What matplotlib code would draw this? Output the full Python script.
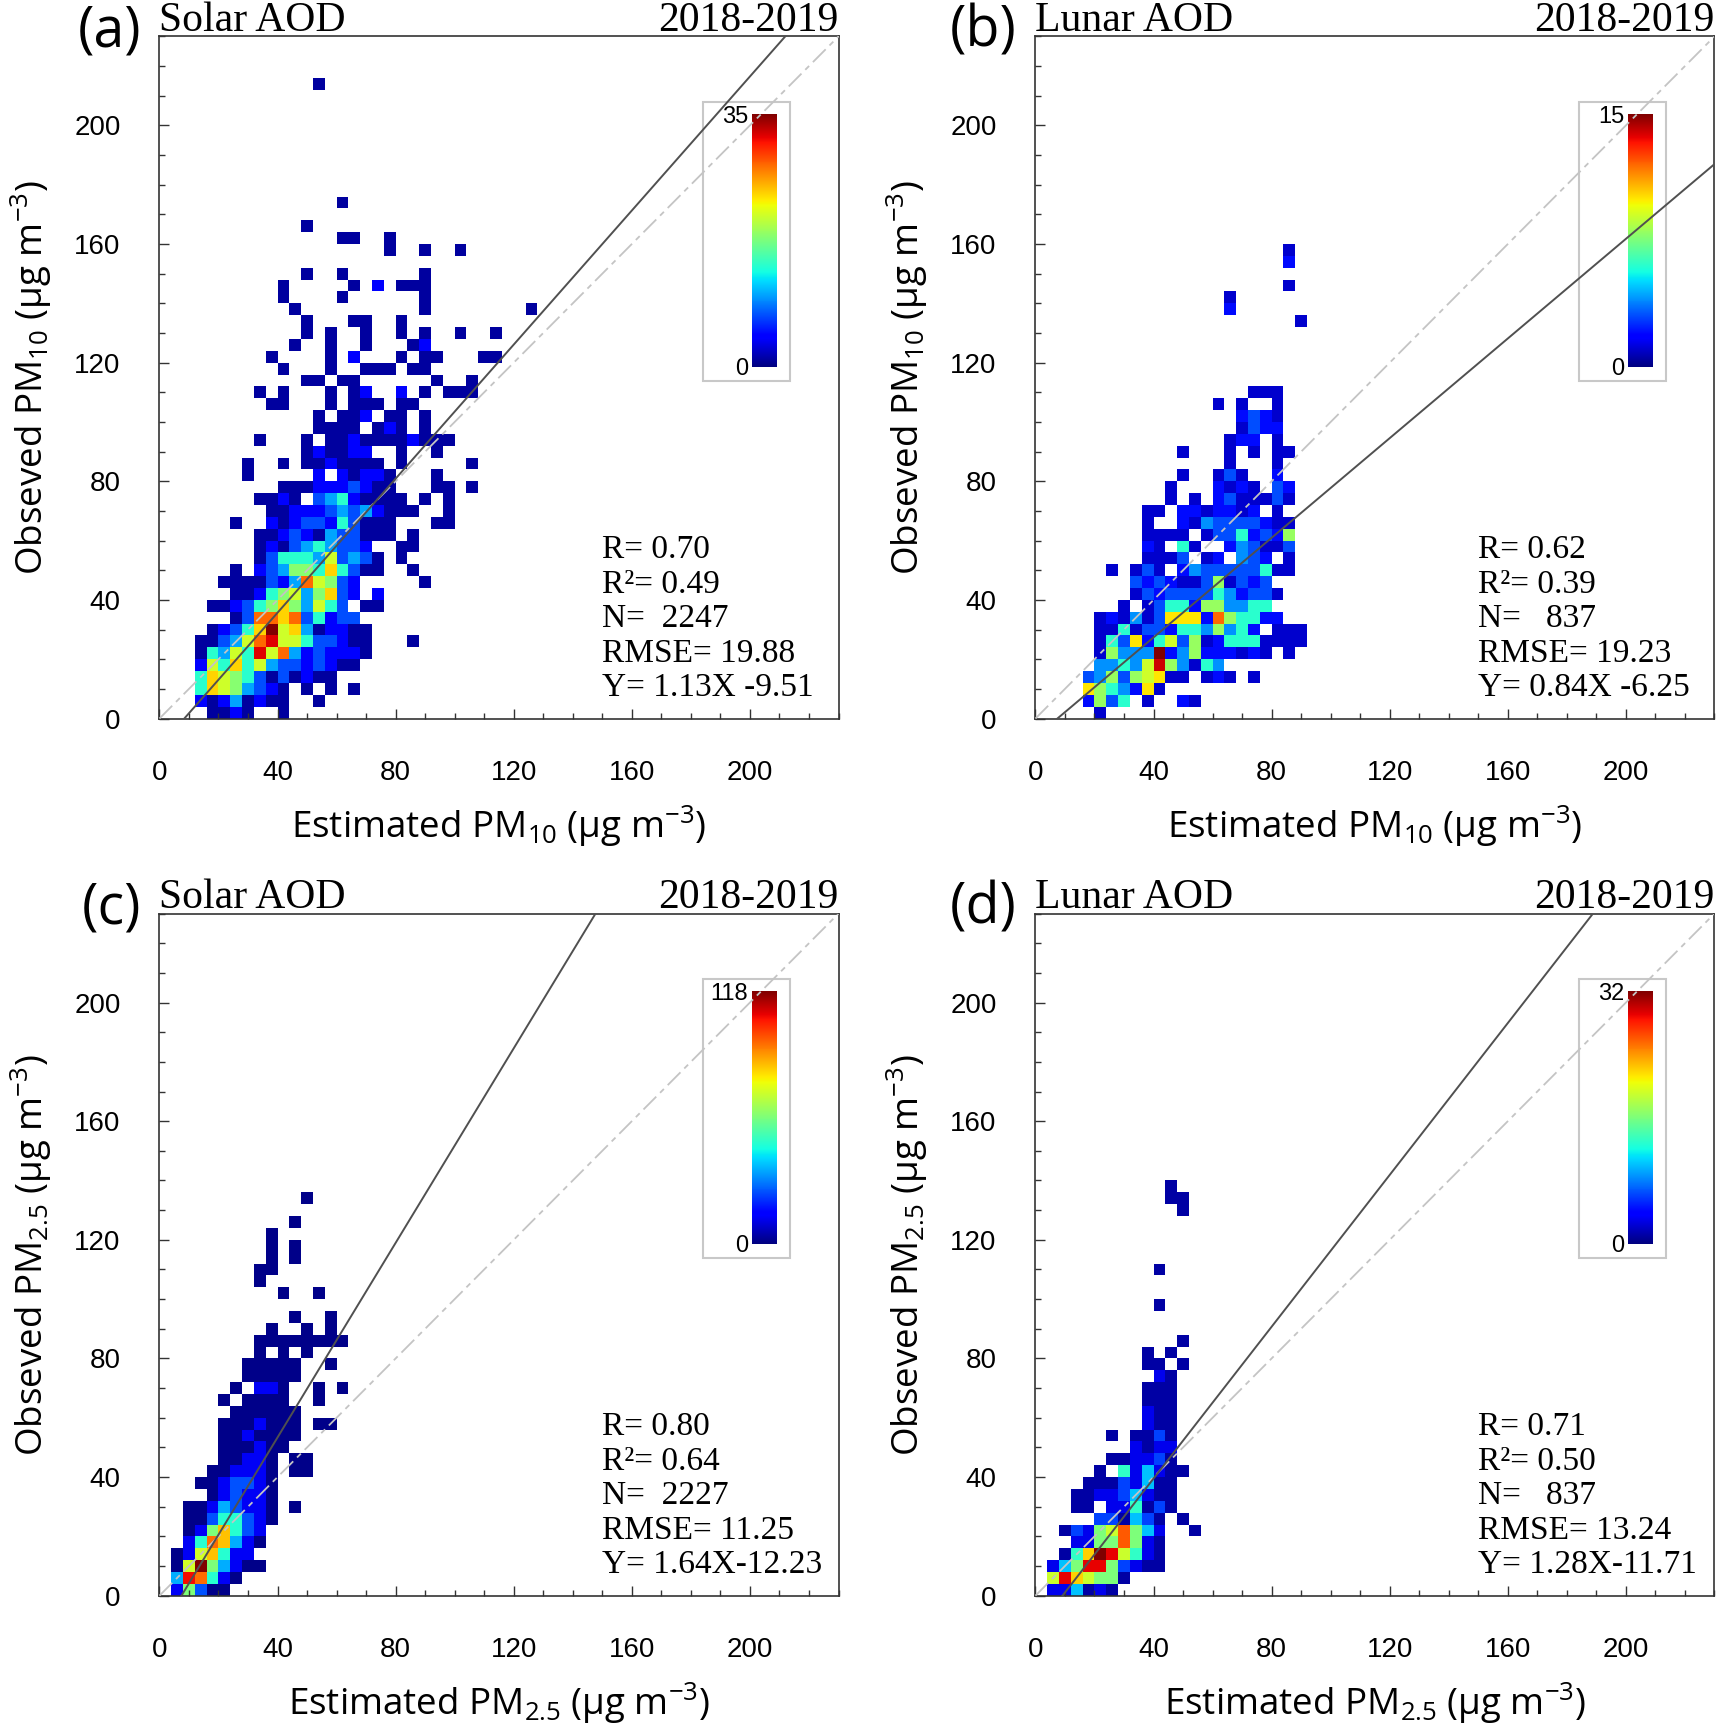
import numpy as np
import matplotlib.pyplot as plt
from matplotlib.patches import Rectangle

plt.rcParams['mathtext.fontset'] = 'custom'
plt.rcParams['mathtext.rm'] = 'Open Sans'
plt.rcParams['mathtext.it'] = 'Open Sans:italic'
plt.rcParams['mathtext.bf'] = 'Open Sans:bold'

panel_tags = ['(a)', '(b)', '(c)', '(d)']
left_titles = ['Solar AOD', 'Lunar AOD', 'Solar AOD', 'Lunar AOD']
period = '2018-2019'
species = ['10', '10', '2.5', '2.5']
cbar_max = [35, 15, 118, 32]
slopes = [1.13, 0.84, 1.64, 1.28]
intercepts = [-9.51, -6.25, -12.23, -11.71]
r_vals = ['0.70', '0.62', '0.80', '0.71']
r2_vals = ['0.49', '0.39', '0.64', '0.50']
n_vals = ['2247', ' 837', '2227', ' 837']
rmse_vals = ['19.88', '19.23', '11.25', '13.24']
eq_vals = ['1.13X -9.51', '0.84X -6.25', '1.64X-12.23', '1.28X-11.71']
bin_width = 4

# 2-D histogram cells.
# (row of 4-unit bins along y, first column of 4-unit bins along x, codes)
# code = count in tenths of the colour-bar maximum ('0' = one count, 'X' = max)
cells_a = [
    (0, 4, "0010..0"),
    (1, 3, "10130100..0"),
    (2, 3, "47653210.0.0.0"),
    (3, 3, "476542020100"),
    (4, 3, "16474632212100"),
    (5, 3, "043649683121110"),
    (6, 3, "002368966422100...0"),
    (7, 4, "01247X67301100"),
    (8, 6, "02887824122"),
    (9, 4, "001245753642.00"),
    (10, 6, "00145635721.1"),
    (11, 5, "000021386521.....0"),
    (12, 6, "0.12355474200..0"),
    (13, 8, "02444362320.0"),
    (14, 8, "0102343221..00"),
    (15, 8, "001210322000.0"),
    (16, 6, "0..10122142000...00"),
    (17, 9, "0011123231000..0"),
    (18, 8, "0010.23410000.0.0"),
    (19, 10, "0001112100...00.0"),
    (20, 7, "0.....1.10110...0"),
    (21, 7, "0..0.0010000.0.....0"),
    (22, 12, "010011..0..0"),
    (23, 8, "0...0.00100001000"),
    (24, 13, "0000.010.0"),
    (25, 13, "0.001.00.0"),
    (26, 9, "00...0.000.00"),
    (27, 8, "0.0...0.01..1.0.000"),
    (28, 12, "00.00......0..0"),
    (29, 10, "0...0..000.00"),
    (30, 9, "0....0.1...0.00...00"),
    (31, 11, "0..0..0...01"),
    (32, 12, "0.0..0..0.0..0..0"),
    (33, 12, "0...00..0"),
    (34, 11, "0..........0........0"),
    (35, 10, "0....0......0"),
    (36, 10, "0.....0.1.000"),
    (37, 12, "0..0......0"),
    (39, 19, "0..0..0"),
    (40, 15, "00..0"),
    (41, 12, "0"),
    (43, 15, "0"),
    (53, 13, "0"),
]

cells_b = [
    (0, 5, "0"),
    (1, 4, "1524.0..10"),
    (2, 4, "7543170"),
    (3, 4, "235256700.010.0"),
    (4, 5, "33436953043"),
    (5, 5, "05333X135111010.0"),
    (6, 5, "042714625014440000"),
    (7, 5, "00402214435341.000"),
    (8, 5, "0103027771854411"),
    (9, 7, "0.02441553344"),
    (10, 8, "0212222431220"),
    (11, 8, "212100250212"),
    (12, 6, "0.020.1322222400"),
    (13, 9, "0002.01.321.0"),
    (14, 9, "10.40..132002"),
    (15, 9, "0000.02241215"),
    (16, 9, "0..1032222100"),
    (17, 9, "00.1101101.0"),
    (18, 11, "0.0.1200020"),
    (19, 11, "0...1010.21"),
    (20, 12, "0..020..1"),
    (21, 16, "0...0"),
    (22, 12, "0...0.0.00"),
    (23, 16, "011.0"),
    (24, 17, "0211"),
    (25, 17, "1210"),
    (26, 15, "0.0..0"),
    (27, 18, "000"),
    (33, 22, "0"),
    (34, 16, "1"),
    (35, 16, "0"),
    (36, 21, "0"),
    (38, 21, "1"),
    (39, 21, "0"),
]

cells_c = [
    (0, 1, "15200"),
    (1, 1, "398410"),
    (2, 1, "06X53100"),
    (3, 1, "0167411"),
    (4, 2, "1487310"),
    (5, 2, "0157421"),
    (6, 2, "00244210"),
    (7, 2, "00132110.0"),
    (8, 4, "012110"),
    (9, 3, "0012210"),
    (10, 4, "001110.00"),
    (11, 5, "00110.00"),
    (12, 5, "000100"),
    (13, 5, "0010000"),
    (14, 5, "0001000.00"),
    (15, 6, "000000"),
    (16, 5, "0.0000..0"),
    (17, 6, "0.110..0.0"),
    (18, 7, "00000"),
    (19, 7, "00000..0"),
    (20, 8, "0.0.0"),
    (21, 8, "00000000"),
    (22, 9, "0..0.0"),
    (23, 11, "0..0"),
    (25, 10, "0..0"),
    (26, 8, "0"),
    (27, 8, "00"),
    (28, 9, "0.0"),
    (29, 9, "0.0"),
    (30, 9, "0"),
    (31, 11, "0"),
    (33, 12, "0"),
]

cells_d = [
    (0, 1, "113010"),
    (1, 1, "6976550"),
    (2, 1, "1359952100"),
    (3, 2, "047X96410"),
    (4, 3, "11558510"),
    (5, 2, "021568531..0"),
    (6, 5, "220320.0"),
    (7, 3, "00.114020"),
    (8, 3, "001123100"),
    (9, 4, "00021300"),
    (10, 5, "0.413100"),
    (11, 6, "001120"),
    (12, 8, "1011"),
    (13, 6, "0.0020"),
    (14, 9, "100"),
    (15, 9, "100"),
    (16, 9, "000"),
    (17, 9, "000"),
    (18, 10, "10"),
    (19, 9, "00.0"),
    (20, 9, "0.0"),
    (21, 12, "0"),
    (24, 10, "0"),
    (27, 10, "0"),
    (32, 12, "0"),
    (33, 11, "00"),
    (34, 11, "0"),
]

all_cells = [cells_a, cells_b, cells_c, cells_d]


def to_grid(rows, vmax, n=60):
    g = np.zeros((n, n))
    for j, k0, codes in rows:
        for i, c in enumerate(codes):
            if c == '.':
                continue
            lev = 10 if c == 'X' else int(c)
            g[j, k0 + i] = max(1, round(lev * vmax / 10))
    return np.ma.masked_equal(g, 0)


fig = plt.figure(figsize=(17.2, 17.26), dpi=100)
positions = [[0.0927, 0.5837, 0.3948, 0.3952],
             [0.602, 0.5837, 0.3948, 0.3952],
             [0.0927, 0.0755, 0.3948, 0.3952],
             [0.602, 0.0755, 0.3948, 0.3952]]

edges = np.arange(0, 241, bin_width)
serif = 'Liberation Serif'
sans = 'Open Sans'

for p in range(4):
    ax = fig.add_axes(positions[p])
    vmax = cbar_max[p]
    grid = to_grid(all_cells[p], vmax)
    mesh = ax.pcolormesh(edges, edges, grid, cmap='jet', vmin=0, vmax=vmax, zorder=1)

    xx = np.array([0, 240])
    ax.plot(xx, xx, color='#c4c4c4', lw=1.3, ls=(0, (10, 3, 3, 3)), zorder=4)
    ax.plot(xx, slopes[p] * xx + intercepts[p], color='#505050', lw=1.4, zorder=5)

    ax.set_xlim(0, 230)
    ax.set_ylim(0, 230)
    ax.set_xticks(range(0, 201, 40))
    ax.set_yticks(range(0, 201, 40))
    ax.set_xticks(range(0, 231, 10), minor=True)
    ax.set_yticks(range(0, 231, 10), minor=True)
    ax.tick_params(which='both', direction='in', top=False, right=False,
                   color='#333333', width=1)
    ax.tick_params(which='major', length=7, labelsize=20)
    ax.tick_params(axis='x', which='major', pad=30)
    ax.tick_params(axis='y', which='major', pad=28)
    ax.tick_params(which='minor', length=4)
    for lab in ax.get_xticklabels() + ax.get_yticklabels():
        lab.set_family('Liberation Sans')
    for s in ax.spines.values():
        s.set_linewidth(1.2)
        s.set_color('#333333')

    sp = species[p]
    ax.set_xlabel('Estimated PM$_{%s}$ (μg m$^{-3}$)' % sp, family=sans, fontsize=26.5)
    ax.set_ylabel('Obseved PM$_{%s}$ (μg m$^{-3}$)' % sp, family=sans, fontsize=26.5)
    ax.xaxis.set_label_coords(0.5, -0.125)
    ax.yaxis.set_label_coords(-0.155, 0.5)

    ax.text(0.0, 1.008, left_titles[p], transform=ax.transAxes, ha='left',
            va='baseline', family=serif, fontsize=30)
    ax.text(1.0, 1.008, period, transform=ax.transAxes, ha='right',
            va='baseline', family=serif, fontsize=30)
    ax.text(-0.027, 1.006, panel_tags[p], transform=ax.transAxes, ha='right',
            va='center', family=sans, fontsize=40)

    lines = ['R= ' + r_vals[p], 'R²= ' + r2_vals[p], 'N=  ' + n_vals[p],
             'RMSE= ' + rmse_vals[p], 'Y= ' + eq_vals[p]]
    for i, t in enumerate(lines):
        ax.text(0.651, 0.247 - i * 0.0505, t, transform=ax.transAxes, ha='left',
                va='center', family=serif, fontsize=24)

    # colour bar inside a light grey box
    ax.add_patch(Rectangle((0.80, 0.495), 0.128, 0.409, transform=ax.transAxes,
                           fill=False, edgecolor='#c8c8c8', lw=1.5, zorder=1.4))
    cax = ax.inset_axes([0.873, 0.516, 0.037, 0.370])
    cax.set_zorder(1.5)
    cb = fig.colorbar(mesh, cax=cax)
    cb.set_ticks([0, vmax])
    cb.outline.set_visible(False)
    cax.yaxis.set_ticks_position('left')
    cax.tick_params(length=0, pad=3, labelsize=17)
    for lab in cax.get_yticklabels():
        lab.set_family('Liberation Sans')

fig.savefig('out.png', dpi=100, facecolor='white')
